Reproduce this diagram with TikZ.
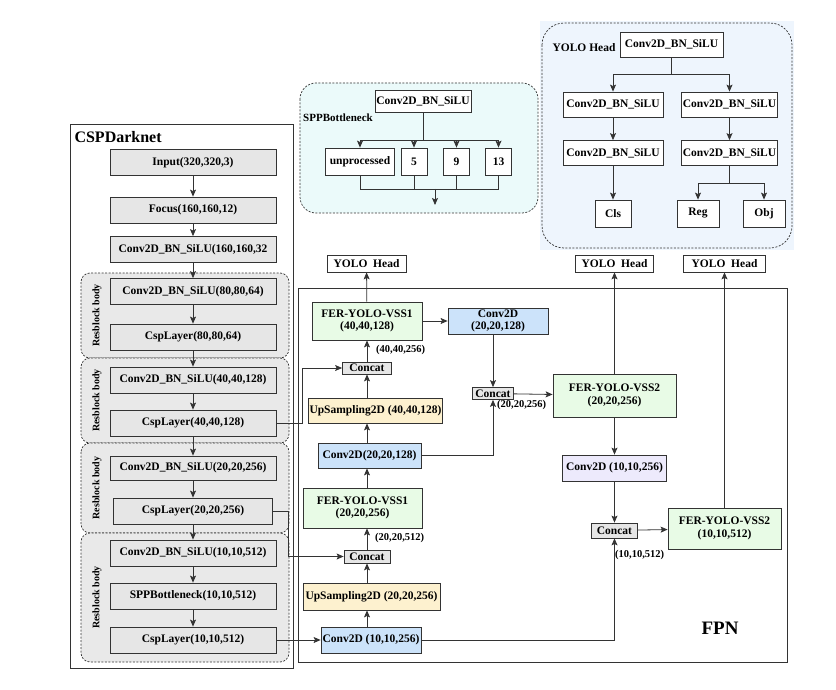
\documentclass[tikz,border=0pt]{standalone}
\usepackage{fontspec}
\setmainfont{Liberation Serif}
\usetikzlibrary{arrows.meta}

\definecolor{boxgray}{HTML}{E6E6E6}
\definecolor{resgray}{HTML}{E9E9E9}
\definecolor{sppcyan}{HTML}{EBFAFA}
\definecolor{headblue}{HTML}{EEF5FD}
\definecolor{fergreen}{HTML}{E8FBE6}
\definecolor{convblue}{HTML}{CCE3FA}
\definecolor{upyellow}{HTML}{FDF1CF}
\definecolor{convpurple}{HTML}{EDEAFC}
\definecolor{linegray}{HTML}{333333}

\tikzset{
  layer/.style={draw=linegray, line width=0.8pt, inner sep=1pt, align=center,
    font=\fontsize{11.5}{12.5}\selectfont\bfseries},
  cspbox/.style={layer, fill=boxgray, minimum width=166, minimum height=26},
  plainbox/.style={layer, fill=white, minimum height=25},
  ferbox/.style={layer, fill=fergreen},
  convbox/.style={layer, fill=convblue, minimum height=26},
  upbox/.style={layer, fill=upyellow, minimum height=26},
  catbox/.style={layer, fill=boxgray, minimum height=12, inner sep=0.5pt},
  region/.style={draw=linegray, line width=0.7pt, dash pattern=on 2pt off 1.5pt},
  arr/.style={draw=linegray, line width=0.8pt, -{Stealth[length=7pt, width=6pt, inset=1.5pt]}},
  wire/.style={draw=linegray, line width=0.8pt},
  shape label/.style={font=\fontsize{10.5}{11}\selectfont\bfseries, inner sep=1pt}
}

\begin{document}
\begin{tikzpicture}[x=1pt, y=-1pt]
  \useasboundingbox (0,0) rectangle (836,690);

  % CSPDarknet
  \draw[wire] (70,124) rectangle (293,668);
  \node[anchor=west, font=\fontsize{16}{17}\selectfont\bfseries] (cspname) at (71,137) {CSPDarknet};

  % Resblock bodies
  \foreach \top/\bot [count=\r] in {273/358, 358/443, 443/533, 533/662} {
    \draw[region, fill=resgray, rounded corners=9pt] (81,\top) rectangle (289,\bot);
    \node[rotate=90, font=\fontsize{10}{11}\selectfont\bfseries] (res\r) at (97,{(\top+\bot)/2}) {Resblock body};
  }

  \node[cspbox] (input) at (193,162.5) {Input(320,320,3)};
  \node[cspbox] (focus) at (193,210) {Focus(160,160,12)};
  \node[cspbox] (conv32) at (193,249.5) {Conv2D\_BN\_SiLU(160,160,32};
  \node[cspbox] (conv64) at (193,291.5) {Conv2D\_BN\_SiLU(80,80,64)};
  \node[cspbox] (csp64) at (193,337) {CspLayer(80,80,64)};
  \node[cspbox] (conv128) at (193,380) {Conv2D\_BN\_SiLU(40,40,128)};
  \node[cspbox] (csp128) at (193,423) {CspLayer(40,40,128)};
  \node[cspbox, minimum height=24] (conv256) at (193,468) {Conv2D\_BN\_SiLU(20,20,256)};
  \node[cspbox, minimum width=159] (csp256) at (193,511) {CspLayer(20,20,256)};
  \node[cspbox] (conv512) at (193,553) {Conv2D\_BN\_SiLU(10,10,512)};
  \node[cspbox] (spp512) at (193,596) {SPPBottleneck(10,10,512)};
  \node[cspbox] (csp512) at (193,640) {CspLayer(10,10,512)};

  \foreach \a/\b in {input/focus, focus/conv32, conv32/conv64, conv64/csp64, csp64/conv128,
      conv128/csp128, csp128/conv256, conv256/csp256, csp256/conv512, conv512/spp512, spp512/csp512}
    \draw[arr] (\a) -- (\b);

  % SPPBottleneck
  \draw[region, fill=sppcyan, rounded corners=16pt] (300,83) rectangle (538,213);
  \node[anchor=west, shape label, font=\fontsize{11}{12}\selectfont\bfseries] (sppname) at (302,118) {SPPBottleneck};
  \node[plainbox, minimum width=96, minimum height=22] (sppconv) at (423,101) {Conv2D\_BN\_SiLU};
  \node[plainbox, minimum width=69, minimum height=27] (unproc) at (360,161.5) {unprocessed};
  \node[plainbox, minimum width=26, minimum height=27] (k5) at (414,161.5) {5};
  \node[plainbox, minimum width=26, minimum height=27] (k9) at (456.5,161.5) {9};
  \node[plainbox, minimum width=26, minimum height=27] (k13) at (498.5,161.5) {13};
  \coordinate (sppsplit) at (423,140);
  \coordinate (sppmerge) at (435,189);
  \coordinate (sppout) at (435,205);
  \draw[wire] (sppconv) -- (sppsplit);
  \foreach \n in {unproc, k5, k9, k13} {
    \draw[arr] (sppsplit) -| (\n);
    \draw[wire] (\n) |- (sppmerge);
  }
  \draw[arr] (sppmerge) -- (sppout);

  % YOLO Head
  \fill[headblue] (540,21) rectangle (794,250);
  \draw[region, rounded corners=22pt] (542,23) rectangle (792,248);
  \node[anchor=west, font=\fontsize{11.5}{12.5}\selectfont\bfseries] (headname) at (549,48) {YOLO Head};
  \node[plainbox, minimum width=103] (hconv) at (671.5,44.5) {Conv2D\_BN\_SiLU};
  \node[plainbox, minimum width=100] (hleft1) at (613,104.5) {Conv2D\_BN\_SiLU};
  \node[plainbox, minimum width=96] (hright1) at (729.5,104.5) {Conv2D\_BN\_SiLU};
  \node[plainbox, minimum width=100] (hleft2) at (613,153) {Conv2D\_BN\_SiLU};
  \node[plainbox, minimum width=96] (hright2) at (729.5,153) {Conv2D\_BN\_SiLU};
  \node[plainbox, minimum width=36, minimum height=27] (cls) at (613,213.5) {Cls};
  \node[plainbox, minimum width=42, minimum height=27] (reg) at (698,213.5) {Reg};
  \node[plainbox, minimum width=42, minimum height=27] (obj) at (764,213.5) {Obj};
  \coordinate (hsplit) at (671.5,74);
  \coordinate (rsplit) at (729.5,183);
  \draw[wire] (hconv) -- (hsplit);
  \draw[arr] (hsplit) -| (hleft1);
  \draw[arr] (hsplit) -| (hright1);
  \draw[arr] (hleft1) -- (hleft2);
  \draw[arr] (hright1) -- (hright2);
  \draw[arr] (hleft2) -- (cls);
  \draw[wire] (hright2) -- (rsplit);
  \draw[arr] (rsplit) -| (reg);
  \draw[arr] (rsplit) -| (obj);

  % FPN
  \draw[wire] (298,288) rectangle (787,662);
  \node[font=\fontsize{19}{20}\selectfont\bfseries] (fpnname) at (720,628) {FPN};

  \node[plainbox, minimum width=79, minimum height=17] (yhead1) at (366.5,263.5) {YOLO\ \ Head};
  \node[plainbox, minimum width=78, minimum height=17] (yhead2) at (614.5,263.5) {YOLO\ \ Head};
  \node[plainbox, minimum width=82, minimum height=17] (yhead3) at (724.5,263.5) {YOLO\ \ Head};

  \node[ferbox, minimum width=110, minimum height=38] (fer1) at (367,321) {FER-YOLO-VSS1\\(40,40,128)};
  \node[convbox, minimum width=100] (conv1) at (498,321) {Conv2D\\(20,20,128)};
  \node[catbox, minimum width=49] (cat1) at (367,368) {Concat};
  \node[upbox, minimum width=133, minimum height=25] (up1) at (375.5,410.5) {UpSampling2D (40,40,128)};
  \node[convbox, minimum width=103, minimum height=25] (conv2) at (369.5,455.5) {Conv2D(20,20,128)};
  \node[catbox, minimum width=41] (cat2) at (493,393.5) {Concat};
  \node[ferbox, minimum width=123, minimum height=43] (fer2) at (614.5,395.5) {FER-YOLO-VSS2\\(20,20,256)};
  \node[layer, fill=convpurple, minimum width=104, minimum height=26] (conv3) at (614.5,468) {Conv2D (10,10,256)};
  \node[catbox, minimum width=46, minimum height=15] (cat3) at (614.5,530.5) {Concat};
  \node[ferbox, minimum width=113, minimum height=41] (fer3) at (724.5,528.5) {FER-YOLO-VSS2\\(10,10,512)};
  \node[ferbox, minimum width=119, minimum height=40] (fer4) at (362.5,508) {FER-YOLO-VSS1\\(20,20,256)};
  \node[catbox, minimum width=46, minimum height=13] (cat4) at (367,556.5) {Concat};
  \node[upbox, minimum width=137, minimum height=27] (up2) at (371.5,596.5) {UpSampling2D (20,20,256)};
  \node[convbox, minimum width=100] (conv4) at (371,640) {Conv2D (10,10,256)};

  % Shapes on the links
  \node[anchor=west, shape label] (s1) at (375,350) {(40,40,256)};
  \node[anchor=west, shape label] (s2) at (496,405) {(20,20,256)};
  \node[anchor=west, shape label] (s3) at (374,538) {(20,20,512)};
  \node[anchor=west, shape label] (s4) at (614,555) {(10,10,512)};

  % Links
  \draw[arr] (csp512) -- (conv4);
  \draw[arr] (conv4.north -| cat4) -- (up2.south -| cat4);
  \draw[arr] (up2.north -| cat4) -- (cat4);
  \draw[arr] (csp256.east) -- ++(15,0) |- (cat4);
  \draw[arr] (cat4) -- (fer4.south -| cat4);
  \draw[arr] (fer4.north -| cat4) -- (conv2.south -| cat4);
  \draw[arr] (conv2.north -| cat1) -- (up1.south -| cat1);
  \draw[arr] (up1.north -| cat1) -- (cat1);
  \draw[arr] (csp128.east) -- ++(26,0) |- (cat1);
  \draw[arr] (cat1) -- (fer1);
  \draw[arr] (fer1) -- (yhead1);
  \draw[arr] (fer1) -- (conv1);
  \draw[arr] (conv1.south -| cat2) -- (cat2);
  \draw[arr] (conv2.east) -| (cat2);
  \draw[arr] (cat2) -- (fer2);
  \draw[arr] (fer2) -- (yhead2);
  \draw[arr] (fer2) -- (conv3);
  \draw[arr] (conv3) -- (cat3);
  \draw[arr] (conv4.east) -| (cat3);
  \draw[arr] (cat3) -- (fer3);
  \draw[arr] (fer3) -- (yhead3);
\end{tikzpicture}
\end{document}
